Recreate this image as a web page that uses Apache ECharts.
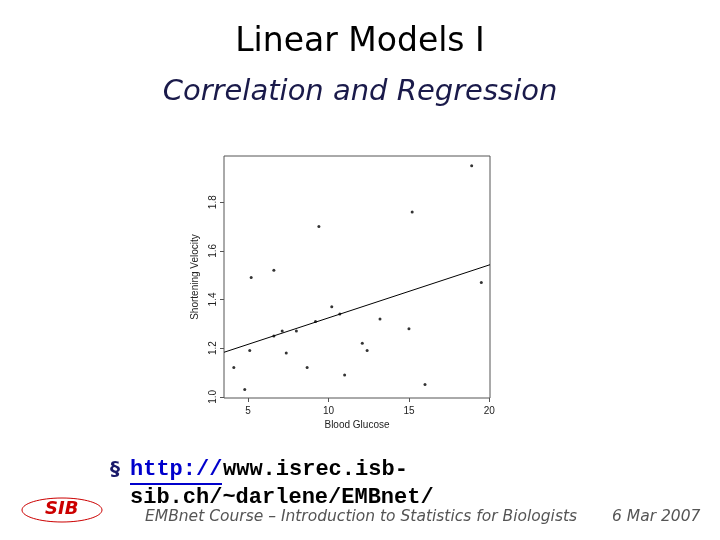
<!DOCTYPE html><html><head><meta charset="utf-8"><script src="https://cdn.jsdelivr.net/npm/echarts@6/dist/echarts.min.js"></script></head><body style="margin:0"><div id="c" style="width:720px;height:540px"></div><script>
const glucose=[4.11,4.79,5.1,5.19,6.6,6.6,7.12,7.37,8.0,8.67,9.19,9.4,10.2,10.7,11.0,12.1,12.4,13.2,15.0,15.2,16.0,18.9,19.5];
const velocity=[1.12,1.03,1.19,1.49,1.52,1.25,1.27,1.18,1.27,1.12,1.31,1.70,1.37,1.34,1.09,1.22,1.19,1.32,1.28,1.76,1.05,1.95,1.47];
const fitX=[3.5,20.04];
const fitY=[1.183,1.543];
const xTicks=[5,10,15,20];
const yTicks=[1.0,1.2,1.4,1.6,1.8];
const ch=echarts.init(document.getElementById('c'));
const lab={fontFamily:'Liberation Sans',fontSize:10,color:'#222'};
ch.setOption({animation:false,backgroundColor:'#fff',
grid:{left:224,right:230,top:156,bottom:142,show:true,borderColor:'#555',borderWidth:1},
xAxis:{type:'value',min:3.5,max:20.04,name:'Blood Glucose',nameLocation:'middle',nameGap:22,nameTextStyle:lab,
 axisLine:{show:false},splitLine:{show:false},axisTick:{show:true,customValues:xTicks,length:4,lineStyle:{color:'#555'}},
 axisLabel:Object.assign({customValues:xTicks,margin:8},lab)},
yAxis:{type:'value',min:0.995,max:1.99,name:'Shortening Velocity',nameLocation:'middle',nameGap:24,nameTextStyle:lab,
 axisLine:{show:false},splitLine:{show:false},axisTick:{show:true,customValues:yTicks,length:4,lineStyle:{color:'#555'}},
 axisLabel:Object.assign({customValues:yTicks,rotate:90,margin:6,formatter:v=>v.toFixed(1)},lab)},
series:[{type:'scatter',symbolSize:3,itemStyle:{color:'#000'},data:glucose.map((g,i)=>[g,velocity[i]])},
{type:'line',symbol:'none',lineStyle:{color:'#000',width:1},data:fitX.map((x,i)=>[x,fitY[i]])}],
graphic:[
{type:'text',left:'center',top:26,style:{text:'Linear Models I',font:'33px "DejaVu Sans"',fill:'#000'}},
{type:'text',left:'center',top:78,style:{text:'Correlation and Regression',font:'italic 29px "DejaVu Sans"',fill:'#1a1a4a'}},
{type:'text',left:110,top:460,style:{text:'§',font:'bold 20px "DejaVu Sans"',fill:'#1a1a6a'}},
{type:'text',left:130,top:458,style:{text:'http://',font:'bold 22px "Liberation Mono"',fill:'#0000cc'}},
{type:'rect',shape:{x:130,y:483,width:92,height:2},style:{fill:'#0000cc'}},
{type:'text',left:223,top:458,style:{text:'www.isrec.isb-',font:'bold 22px "Liberation Mono"',fill:'#000'}},
{type:'text',left:130,top:486,style:{text:'sib.ch/~darlene/EMBnet/',font:'bold 22px "Liberation Mono"',fill:'#000'}},
{type:'text',left:145,top:509,style:{text:'EMBnet Course – Introduction to Statistics for Biologists',font:'italic 15.5px "DejaVu Sans"',fill:'#555'}},
{type:'text',left:612,top:509,style:{text:'6 Mar 2007',font:'italic 15.5px "DejaVu Sans"',fill:'#555'}},
{type:'text',left:45,top:500,style:{text:'SIB',font:'italic bold 18px "DejaVu Sans"',fill:'#c00'}},
{type:'ellipse',shape:{cx:62,cy:510,rx:40,ry:12},style:{fill:'none',stroke:'#c00',lineWidth:1}}
]});
</script></body></html>
